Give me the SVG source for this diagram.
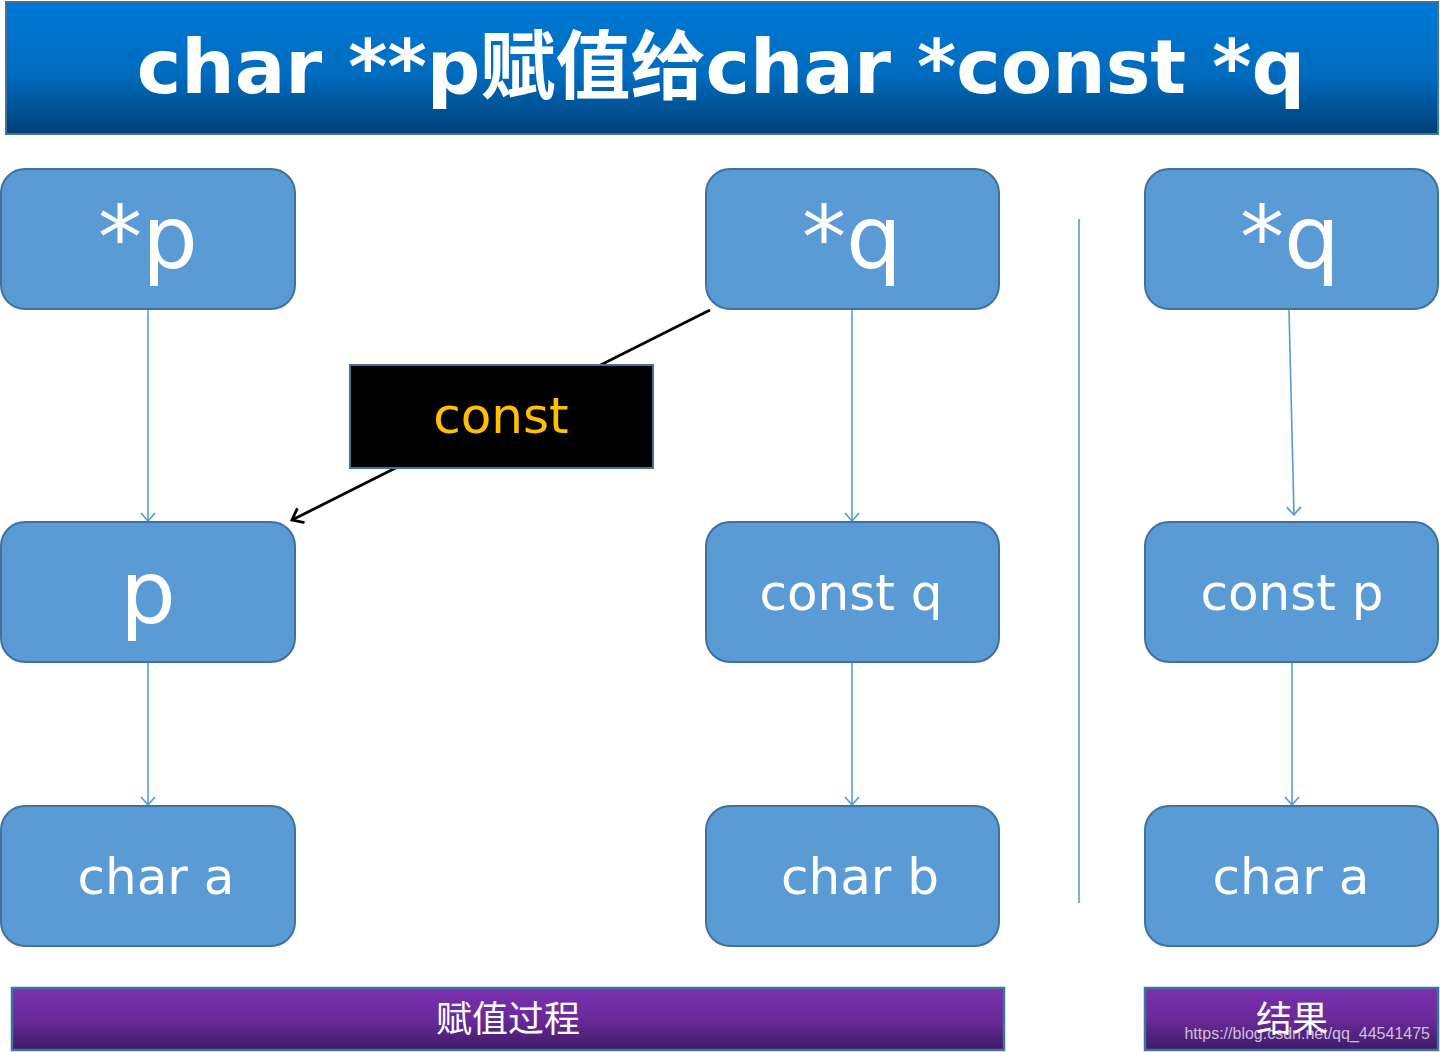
<svg xmlns="http://www.w3.org/2000/svg" width="1440" height="1052" viewBox="0 0 1440 1052">
<defs>
<linearGradient id="gTitle" x1="0" y1="0" x2="0" y2="1">
<stop offset="0" stop-color="#0079d6"/>
<stop offset="0.55" stop-color="#006cbf"/>
<stop offset="1" stop-color="#003f75"/>
</linearGradient>
<linearGradient id="gPurple" x1="0" y1="0" x2="0" y2="1">
<stop offset="0" stop-color="#7a31b0"/>
<stop offset="0.5" stop-color="#6a2a9a"/>
<stop offset="1" stop-color="#3e1a66"/>
</linearGradient>
<marker id="mBlue" markerUnits="userSpaceOnUse" markerWidth="20" markerHeight="20" refX="10" refY="10" orient="auto">
<path d="M2,3 L10,10 L2,17" fill="none" stroke="#5b9bd5" stroke-width="1.8"/>
</marker>
<marker id="mBlack" markerUnits="userSpaceOnUse" markerWidth="24" markerHeight="24" refX="12" refY="12" orient="auto">
<path d="M2,4 L12,12 L2,20" fill="none" stroke="#000" stroke-width="2.8"/>
</marker>
</defs>
<style>
.node{fill:#5b9bd5;stroke:#41719c;stroke-width:2}
.lbl{font-family:"DejaVu Sans",sans-serif;fill:#fff;text-anchor:middle}
.big{font-size:88px}
.mid{font-size:50px}
.blue{stroke:#5b9bd5;stroke-width:1.6;fill:none}
.bar{fill:url(#gPurple);stroke:#41719c;stroke-width:2.5}
.cjk{font-family:"Noto Sans CJK SC",sans-serif;fill:#fff;text-anchor:middle;font-size:36px}
</style>
<rect x="0" y="0" width="1440" height="1052" fill="#fff"/>

<g id="title">
<rect x="6" y="2" width="1432" height="132" fill="url(#gTitle)" stroke="#41719c" stroke-width="2"/>
<text x="721" y="93" font-family="DejaVu Sans, 'Noto Sans CJK SC', sans-serif" font-weight="bold" font-size="75" fill="#fff" text-anchor="middle">char **p赋值给char *const *q</text>
</g>

<g id="connectors">
<line class="blue" x1="148" y1="310" x2="148" y2="521" marker-end="url(#mBlue)"/>
<line class="blue" x1="148" y1="663" x2="148" y2="805" marker-end="url(#mBlue)"/>
<line class="blue" x1="852" y1="310" x2="852" y2="521" marker-end="url(#mBlue)"/>
<line class="blue" x1="852" y1="663" x2="852" y2="805" marker-end="url(#mBlue)"/>
<line class="blue" x1="1289" y1="310" x2="1294" y2="515" marker-end="url(#mBlue)"/>
<line class="blue" x1="1292" y1="663" x2="1292" y2="805" marker-end="url(#mBlue)"/>
<line x1="710" y1="310" x2="292" y2="520" stroke="#000" stroke-width="2.8" marker-end="url(#mBlack)"/>
<line x1="1079" y1="219" x2="1079" y2="903" stroke="#5b9bd5" stroke-width="1.6"/>
</g>

<g id="node-star-p">
<rect class="node" x="1" y="169" width="294" height="140" rx="24"/>
<text class="lbl big" x="148" y="268">*p</text>
</g>
<g id="node-p">
<rect class="node" x="1" y="522" width="294" height="140" rx="24"/>
<text class="lbl big" x="148" y="623">p</text>
</g>
<g id="node-char-a-left">
<rect class="node" x="1" y="806" width="294" height="140" rx="24"/>
<text class="lbl mid" x="156" y="894">char a</text>
</g>

<g id="node-star-q">
<rect class="node" x="706" y="169" width="293" height="140" rx="24"/>
<text class="lbl big" x="852" y="268">*q</text>
</g>
<g id="node-const-q">
<rect class="node" x="706" y="522" width="293" height="140" rx="24"/>
<text class="lbl mid" x="851" y="610">const q</text>
</g>
<g id="node-char-b">
<rect class="node" x="706" y="806" width="293" height="140" rx="24"/>
<text class="lbl mid" x="860" y="894">char b</text>
</g>

<g id="node-star-q-right">
<rect class="node" x="1145" y="169" width="293" height="140" rx="24"/>
<text class="lbl big" x="1290" y="268">*q</text>
</g>
<g id="node-const-p">
<rect class="node" x="1145" y="522" width="293" height="140" rx="24"/>
<text class="lbl mid" x="1292" y="610">const p</text>
</g>
<g id="node-char-a-right">
<rect class="node" x="1145" y="806" width="293" height="140" rx="24"/>
<text class="lbl mid" x="1291" y="894">char a</text>
</g>

<g id="label-const">
<rect x="350" y="365" width="303" height="103" fill="#000" stroke="#41719c" stroke-width="2"/>
<text x="501" y="433" font-family="DejaVu Sans, sans-serif" font-size="50" fill="#ffc000" text-anchor="middle">const</text>
</g>

<g id="bar-process">
<rect class="bar" x="12" y="988" width="992" height="62"/>
<text class="cjk" x="508" y="1032">赋值过程</text>
</g>
<g id="bar-result">
<rect class="bar" x="1145" y="988" width="293" height="62"/>
<text class="cjk" x="1292" y="1032">结果</text>
<text x="1430" y="1039" font-family="Liberation Sans, Arial, sans-serif" font-size="16" fill="#ffffff" fill-opacity="0.72" text-anchor="end">https://blog.csdn.net/qq_44541475</text>
</g>
</svg>
